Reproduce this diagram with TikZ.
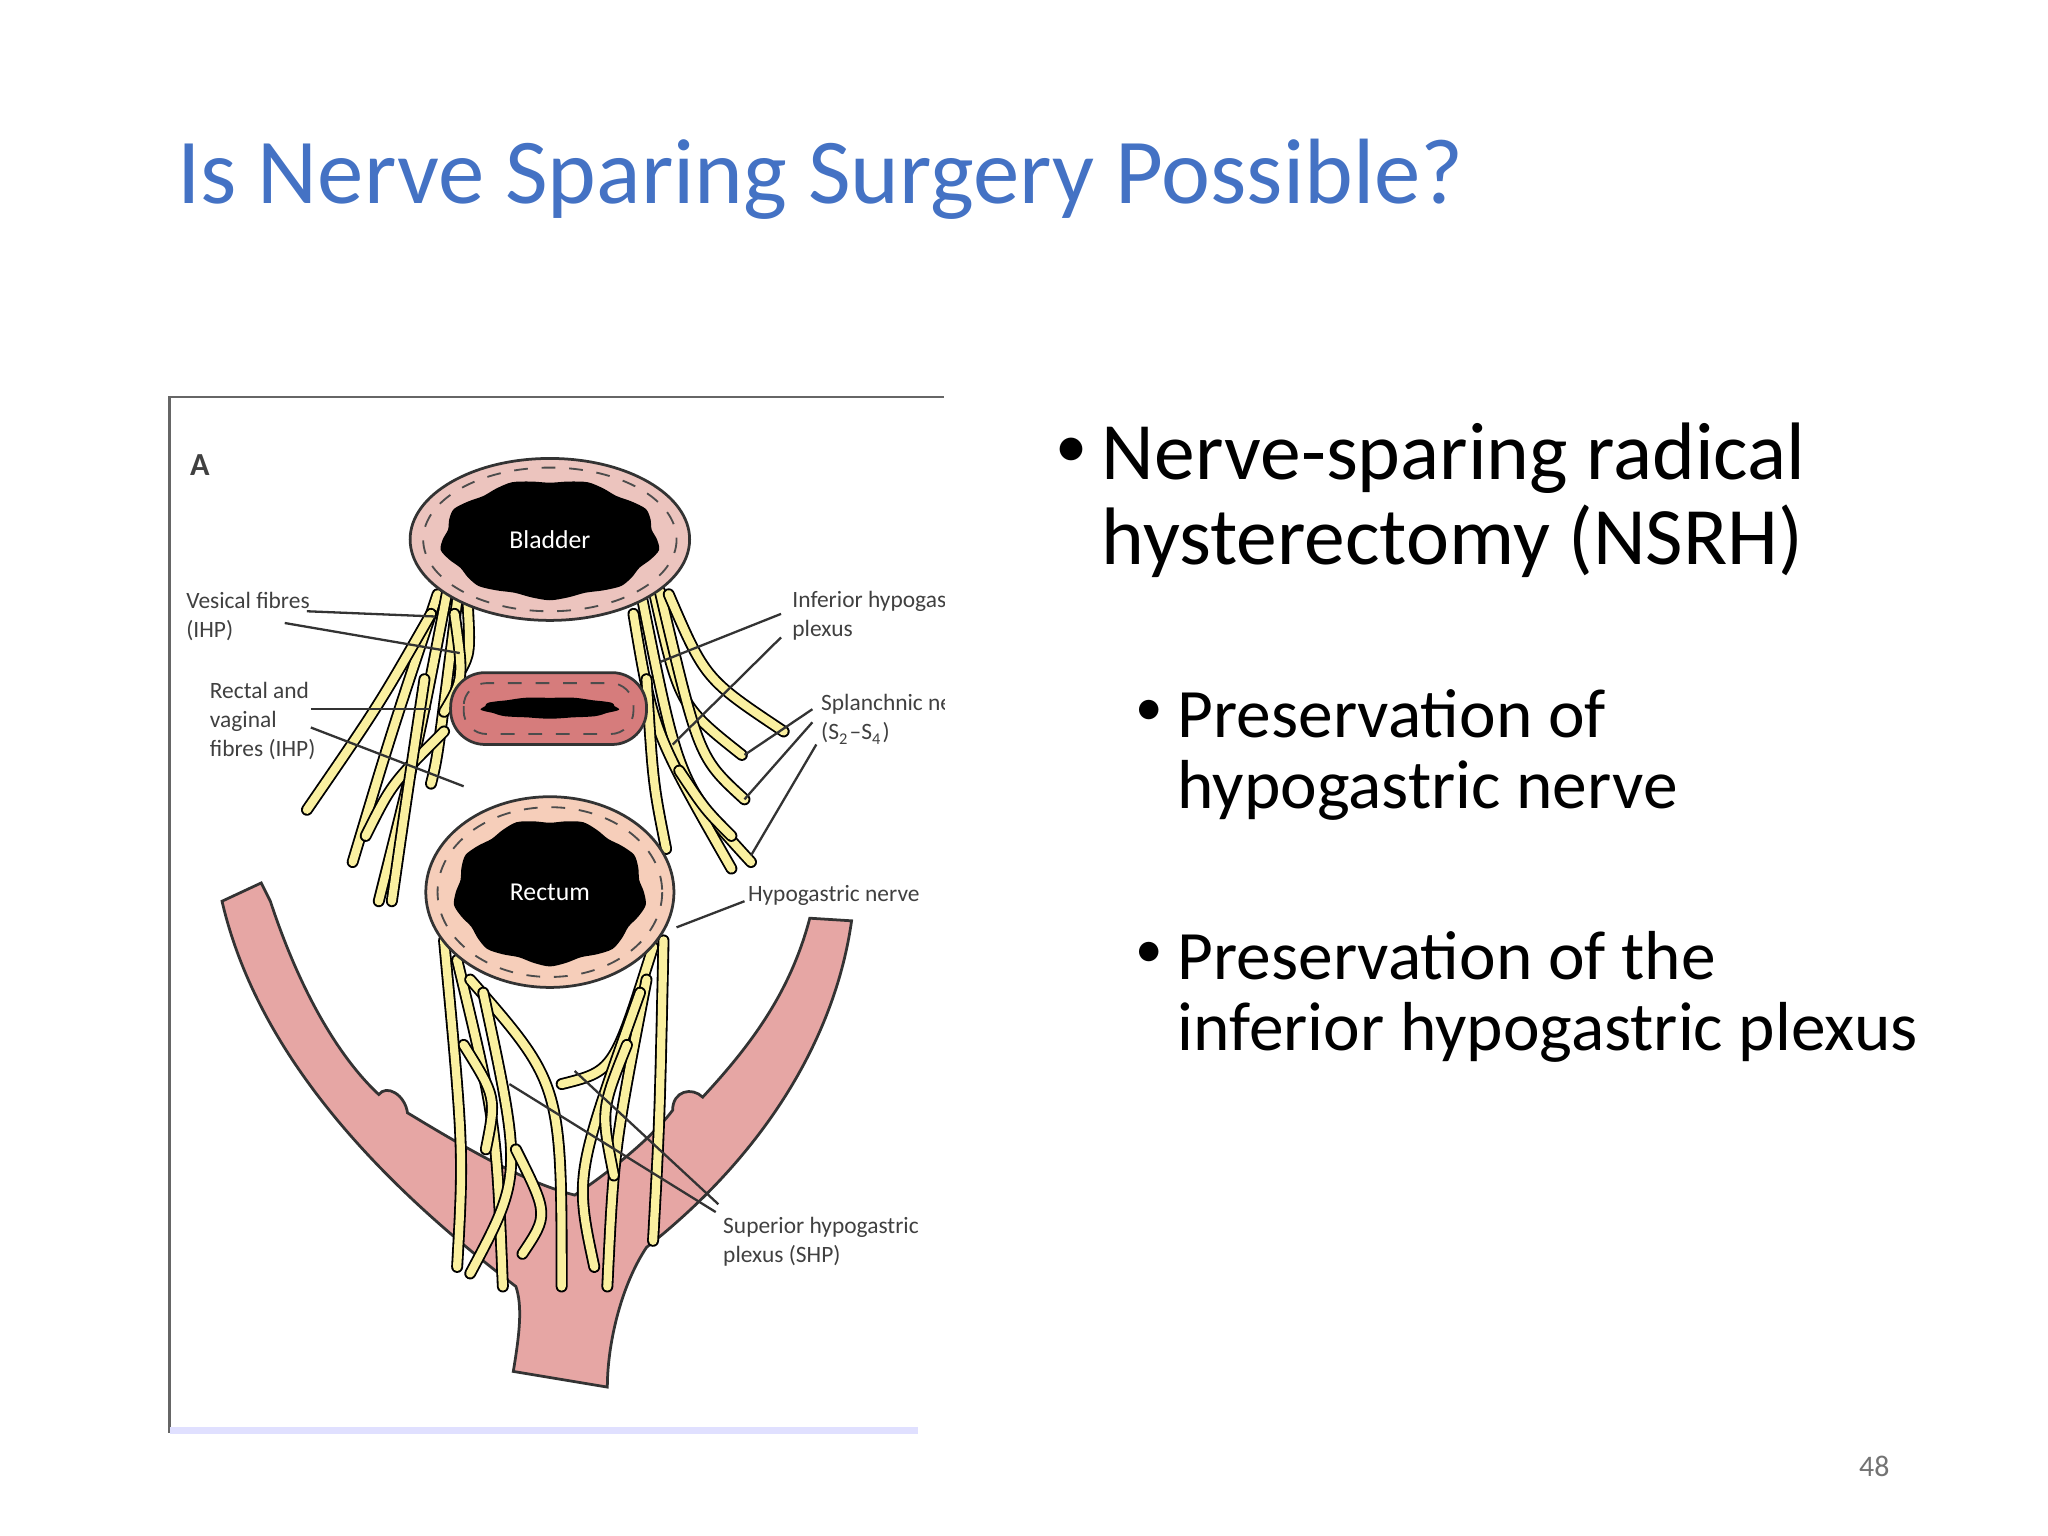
\documentclass[tikz,border=0pt]{standalone}
\usepackage{fontspec}
\setmainfont{Carlito}
\usetikzlibrary{positioning,calc}
\definecolor{titleblue}{RGB}{68,114,196}
\definecolor{ringpink}{RGB}{236,196,190}
\definecolor{peach}{RGB}{246,206,186}
\definecolor{vagpink}{RGB}{214,124,124}
\definecolor{vesselpink}{RGB}{230,166,164}
\definecolor{nerveyellow}{RGB}{250,240,160}
\tikzset{nerve/.style={double=nerveyellow, double distance=1.8pt, line width=0.4pt, line cap=round},
         lab/.style={font=\fontsize{5.1}{6.3}\selectfont, text=black!75, align=left, anchor=north west, inner sep=0pt},
         lead/.style={draw=black!80, line width=0.5pt},
         organ/.style={draw=black!80, line width=0.6pt},
         blobtxt/.style={text=white, font=\fontsize{5.6}{7}\selectfont}}
\newcommand{\blob}[4]{% cx, cy, rx, ry
  \fill[black] plot[smooth cycle, domain=0:350, samples=36, variable=\t]
    ({#1+#3*(1+0.035*sin(9*\t))*cos(\t)}, {#2+#4*(1+0.035*sin(9*\t))*sin(\t)});}
\begin{document}
\begin{tikzpicture}[x=0.01cm, y=-0.01cm]
\useasboundingbox (0,0) rectangle (1568,1176);
% title and bullets
\node[anchor=west, text=titleblue, font=\fontsize{20.2}{24}\selectfont, inner sep=0pt] (title) at (135,137) {Is Nerve Sparing Surgery Possible?};
\node[anchor=north west, font=\fontsize{17.75}{18.6}\selectfont, inner sep=0pt, align=left] (b1) at (843,323) {Nerve-sparing radical\\hysterectomy (NSRH)};
\node[anchor=east, font=\fontsize{14}{16}\selectfont, inner sep=0pt] (d1) at (833,347) {•};
\node[anchor=north west, font=\fontsize{15.1}{15.6}\selectfont, inner sep=0pt, align=left] (b2) at (901,527) {Preservation of\\hypogastric nerve};
\node[anchor=east, font=\fontsize{12}{14}\selectfont, inner sep=0pt] (d2) at (891,546) {•};
\node[anchor=north west, font=\fontsize{15.1}{15.6}\selectfont, inner sep=0pt, align=left] (b3) at (901,712) {Preservation of the\\inferior hypogastric plexus};
\node[anchor=east, font=\fontsize{12}{14}\selectfont, inner sep=0pt] (d3) at (891,731) {•};
\node[text=black!55, font=\fontsize{6.5}{8}\selectfont] (page) at (1435,1123) {48};
% figure frame
\draw[black!60, line width=0.6pt] (130,1097) -- (130,304) -- (723,304);
\draw[blue!12, line width=1.5pt] (130,1095) -- (703,1095);
\begin{scope}
\clip (131,305) rectangle (723,1094);
\node[font=\bfseries\fontsize{7}{8}\selectfont, text=black!75] (A) at (153,356) {A};
% vessels
\filldraw[organ, fill=vesselpink] (170,690) -- (200,676) -- (207,690)
  .. controls (230,760) and (260,810) .. (290,838) .. controls (296,830) and (310,838) .. (312,852)
  .. controls (350,875) and (400,905) .. (440,915)
  .. controls (470,895) and (500,870) .. (515,850) .. controls (515,835) and (530,832) .. (538,840)
  .. controls (575,800) and (605,760) .. (620,703) -- (652,705)
  .. controls (640,790) and (590,880) .. (495,955)
  .. controls (475,985) and (465,1030) .. (465,1062) -- (393,1050)
  .. controls (398,1020) and (400,1000) .. (395,985)
  .. controls (310,920) and (200,820) .. cycle;
% nerves, left side
\foreach \a/\b/\c/\d/\e/\f in {335/455/300/560/270/660, 342/455/320/570/290/690, 350/460/335/580/330/600,
  330/470/290/540/235/620, 358/460/360/500/352/515, 340/560/300/600/280/640, 325/520/310/620/300/690,
  348/470/355/520/340/545}{
  \draw[nerve] (\a,\b) .. controls (\c,\d) .. (\e,\f);}
% nerves, right side
\foreach \a/\b/\c/\d/\e/\f in {500/450/520/540/568/578, 505/452/535/580/570/612, 492/460/520/600/575/660,
  485/470/500/560/560/665, 512/455/540/520/600/560, 495/520/500/600/510/650, 520/590/540/620/560/640}{
  \draw[nerve] (\a,\b) .. controls (\c,\d) .. (\e,\f);}
% nerves, lower plexus
\foreach \a/\b/\c/\d/\e/\f in {340/720/355/880/350/970, 350/735/380/860/385/985, 360/750/430/830/430/985,
  500/725/470/820/430/830, 508/720/505/860/500/950, 495/750/470/880/465/985, 370/760/400/900/360/975,
  490/760/440/900/455/970, 355/800/380/840/372/880, 480/800/460/850/470/900, 395/880/420/930/400/960}{
  \draw[nerve] (\a,\b) .. controls (\c,\d) .. (\e,\f);}
% bladder
\filldraw[organ, fill=ringpink] (421,413) ellipse (107 and 62);
\draw[black!70, dashed, line width=0.4pt] (421,413) ellipse (97 and 55);
\blob{421}{413}{82}{45}
\node[blobtxt] (bladder) at (421,413) {Bladder};
% vagina
\filldraw[organ, fill=vagpink, rounded corners=7.5pt] (345,515) rectangle (495,570);
\draw[black!70, dashed, line width=0.4pt, rounded corners=5pt] (355,523) rectangle (485,562);
\blob{421}{542}{52}{8}
\coordinate (vagina) at (421,542);
% rectum
\filldraw[organ, fill=peach] (421,683) ellipse (95 and 73);
\draw[black!70, dashed, line width=0.4pt] (421,683) ellipse (86 and 65);
\blob{421}{683}{72}{55}
\node[blobtxt] (rectum) at (421,683) {Rectum};
% labels
\node[lab] (ves) at (142,453) {Vesical fibres\\(IHP)};
\node[lab] (recvag) at (160,522) {Rectal and\\vaginal\\fibres (IHP)};
\node[lab] (ihp) at (606,452) {Inferior hypogastric\\plexus};
\node[lab] (spl) at (628,531) {Splanchnic nerves\\(S\textsubscript{2}–S\textsubscript{4})};
\node[lab] (hyp) at (572,677) {Hypogastric nerve};
\node[lab] (shp) at (553,931) {Superior hypogastric\\plexus (SHP)};
% leaders
\coordinate (v1) at (333,472); \coordinate (v2) at (352,500);
\coordinate (r1) at (330,543); \coordinate (r2) at (355,602);
\coordinate (i1) at (505,507); \coordinate (i2) at (515,570);
\coordinate (s1) at (570,578); \coordinate (s2) at (570,612); \coordinate (s3) at (575,655);
\coordinate (h1) at (518,710);
\coordinate (p1) at (390,830); \coordinate (p2) at (440,820);
\draw[lead] (235,468) -- (v1); \draw[lead] (218,477) -- (v2);
\draw[lead] (238,543) -- (r1); \draw[lead] (238,557) -- (r2);
\draw[lead] (598,470) -- (i1); \draw[lead] (598,488) -- (i2);
\draw[lead] (622,543) -- (s1); \draw[lead] (622,553) -- (s2); \draw[lead] (625,570) -- (s3);
\draw[lead] (570,690) -- (h1);
\draw[lead] (548,928) -- (p1); \draw[lead] (550,922) -- (p2);
\end{scope}
\end{tikzpicture}
\end{document}
